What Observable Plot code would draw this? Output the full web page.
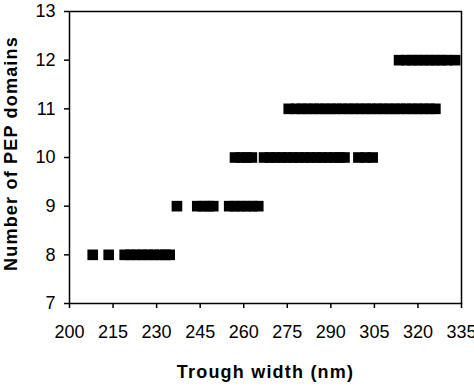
<!DOCTYPE html>
<html>
<head>
<meta charset="utf-8">
<script src="https://cdn.jsdelivr.net/npm/d3@7"></script>
<script src="https://cdn.jsdelivr.net/npm/@observablehq/plot@0.6"></script>
<style>
  html, body { margin: 0; padding: 0; background: #fff; }
  #chart svg { font-family: "Liberation Sans", Arial, sans-serif; }
</style>
</head>
<body>
<div id="chart"></div>
<script>
// Trough widths (nm) observed for each number of PEP domains
const widths8 = [208, 213.5, 219, 221, 223, 225, 227, 229, 231, 233, 234.5];
const widths9 = [237, 244, 246, 248, 249.5, 255, 257, 259, 261, 263, 265];
const widths10 = [257, 259, 261, 262.8, 267, 269, 271, 273, 275, 277, 279, 281, 283, 285, 287, 289, 291, 293, 294.7, 299.5, 302, 304.4];
const widths11 = [275.5, 278, 280, 282, 284, 286, 288, 290, 292, 294, 296, 298, 300, 302, 304, 306, 308, 310, 312, 314, 316, 318, 320, 322, 324, 326];
const widths12 = [313.5, 316, 318, 320, 322, 324, 326, 328, 330, 332.8];
const domainCounts = [8, 9, 10, 11, 12];
const xTicks = [200, 215, 230, 245, 260, 275, 290, 305, 320, 335];
const yTicks = [7, 8, 9, 10, 11, 12, 13];
const xTitle = "Trough width (nm)";
const yTitle = "Number of PEP domains";

const rows = [widths8, widths9, widths10, widths11, widths12];
const data = rows.flatMap((ws, i) => ws.map(w => ({width: w, domains: domainCounts[i]})));

const chart = Plot.plot({
  width: 474,
  height: 387,
  marginLeft: 69,
  marginRight: 13,
  marginTop: 11,
  marginBottom: 84,
  style: {fontSize: "18px", color: "black", background: "white"},
  x: {domain: [200, 335], ticks: xTicks, label: null},
  y: {domain: [7, 13], ticks: yTicks, label: null},
  marks: [
    Plot.axisX({ticks: xTicks, tickSize: 5, tickPadding: 17, strokeWidth: 1.5, fontSize: 18, tickFormat: d => String(d), label: null}),
    Plot.axisY({ticks: yTicks, tickSize: 5, tickPadding: 9, strokeWidth: 1.5, fontSize: 18, tickFormat: d => String(d), label: null}),
    Plot.dot(data, {x: "width", y: "domains", symbol: "square", r: 6, fill: "black", stroke: "none"}),
    Plot.frame({stroke: "black", strokeWidth: 1.5}),
    Plot.text([xTitle], {frameAnchor: "bottom", dy: 74, fontWeight: "bold", fontSize: 18, fill: "black", textAnchor: "middle", className: "ttl"}),
    Plot.text([yTitle], {frameAnchor: "left", dx: -58, dy: -4, rotate: -90, fontWeight: "bold", fontSize: 18, fill: "black", textAnchor: "middle", className: "ttl"})
  ]
});
document.getElementById("chart").appendChild(chart);
d3.select(chart).selectAll("g.ttl text").style("letter-spacing", "1.2px");
</script>
</body>
</html>
